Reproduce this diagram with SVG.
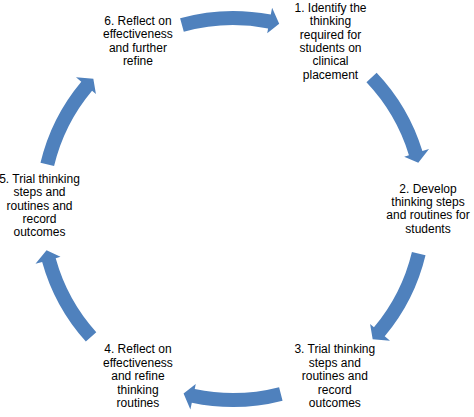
<svg xmlns="http://www.w3.org/2000/svg" xmlns:xlink="http://www.w3.org/1999/xlink" width="474" height="417" viewBox="0 0 474 417">
  <style>
    .lbl { font-family: "Liberation Sans", Arial, sans-serif; font-size: 12px; fill: #000; text-anchor: middle; }
    .arr { fill: #4F81BD; }
  </style>
  <defs>
    <path id="arrow" class="arr" d="M180.1,18.2 A198,198 0 0 1 270.8,14.6 L272.1,7.8 L279.2,23.7 L267.2,33.3 L268.1,28.4 A184,184 0 0 0 183.8,31.7 Z"/>
  </defs>
  <rect width="474" height="417" fill="#fff"/>
  <g id="connectors">
    <use href="#arrow" xlink:href="#arrow"/>
    <use href="#arrow" xlink:href="#arrow" transform="rotate(62 233 209)"/>
    <use href="#arrow" xlink:href="#arrow" transform="rotate(119 233 209)"/>
    <use href="#arrow" xlink:href="#arrow" transform="rotate(181 233 209)"/>
    <use href="#arrow" xlink:href="#arrow" transform="rotate(243.5 233 209)"/>
    <use href="#arrow" xlink:href="#arrow" transform="rotate(299 233 209)"/>
  </g>
  <g id="node1">
    <text class="lbl" x="330.5" y="11.7">1. Identify the</text>
    <text class="lbl" x="330.5" y="25.1">thinking</text>
    <text class="lbl" x="330.5" y="38.5">required for</text>
    <text class="lbl" x="330.5" y="51.9">students on</text>
    <text class="lbl" x="330.5" y="65.3">clinical</text>
    <text class="lbl" x="330.5" y="78.7">placement</text>
  </g>
  <g id="node2">
    <text class="lbl" x="428" y="192.5">2. Develop</text>
    <text class="lbl" x="428" y="205.9">thinking steps</text>
    <text class="lbl" x="428" y="219.3">and routines for</text>
    <text class="lbl" x="428" y="232.7">students</text>
  </g>
  <g id="node3">
    <text class="lbl" x="334.8" y="353.3">3. Trial thinking</text>
    <text class="lbl" x="334.8" y="366.7">steps and</text>
    <text class="lbl" x="334.8" y="380.1">routines and</text>
    <text class="lbl" x="334.8" y="393.5">record</text>
    <text class="lbl" x="334.8" y="406.9">outcomes</text>
  </g>
  <g id="node4">
    <text class="lbl" x="137.9" y="353.3">4. Reflect on</text>
    <text class="lbl" x="137.9" y="366.7">effectiveness</text>
    <text class="lbl" x="137.9" y="380.1">and refine</text>
    <text class="lbl" x="137.9" y="393.5">thinking</text>
    <text class="lbl" x="137.9" y="406.9">routines</text>
  </g>
  <g id="node5">
    <text class="lbl" x="39.5" y="182.7">5. Trial thinking</text>
    <text class="lbl" x="39.5" y="196.1">steps and</text>
    <text class="lbl" x="39.5" y="209.5">routines and</text>
    <text class="lbl" x="39.5" y="222.9">record</text>
    <text class="lbl" x="39.5" y="236.3">outcomes</text>
  </g>
  <g id="node6">
    <text class="lbl" x="137.9" y="25">6. Reflect on</text>
    <text class="lbl" x="137.9" y="38.4">effectiveness</text>
    <text class="lbl" x="137.9" y="51.8">and further</text>
    <text class="lbl" x="137.9" y="65.2">refine</text>
  </g>
</svg>
